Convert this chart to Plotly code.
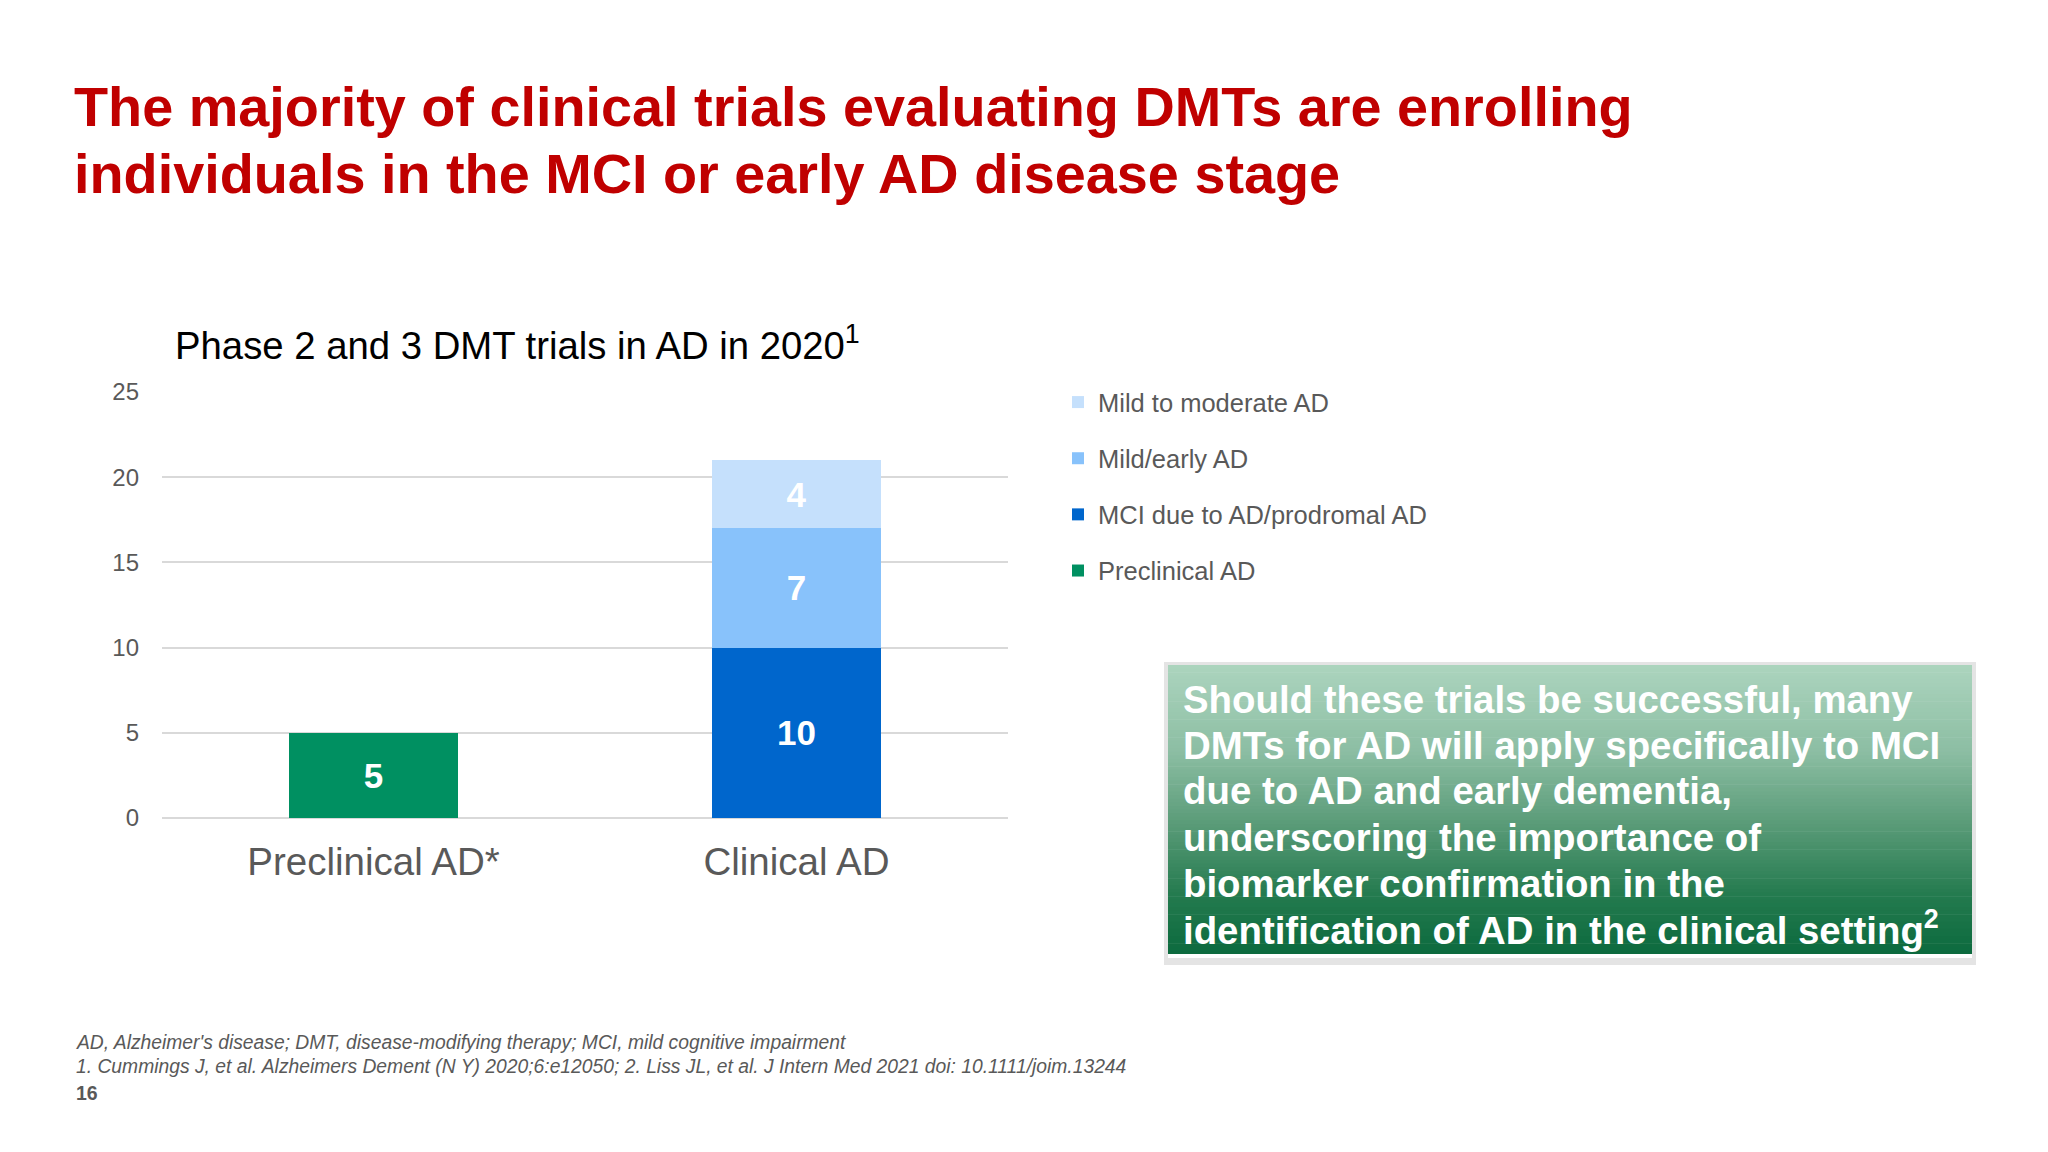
import plotly.graph_objects as go

# ---- data ----
categories = ["Preclinical AD*", "Clinical AD"]
series_names = ["Preclinical AD", "MCI due to AD/prodromal AD", "Mild/early AD", "Mild to moderate AD"]
preclinical_vals = [5, None]
mci_vals = [None, 10]
mild_early_vals = [None, 7]
mild_moderate_vals = [None, 4]
series_colors = ["#009061", "#0066CC", "#88C2FB", "#C5E0FC"]
y_ticks = [0, 5, 10, 15, 20, 25]

title_lines = ["The majority of clinical trials evaluating DMTs are enrolling",
               "individuals in the MCI or early AD disease stage"]
box_lines = ["Should these trials be successful, many",
             "DMTs for AD will apply specifically to MCI",
             "due to AD and early dementia,",
             "underscoring the importance of",
             "biomarker confirmation in the",
             "identification of AD in the clinical setting<sup>2</sup>"]

W, H = 2048, 1152
L, R, T, B = 162, 1008, 392, 818  # plot area in px


def px(x):
    return (x - L) / (R - L)


def py(y):
    return (B - y) / (B - T)


fig = go.Figure()
n_series = len(series_names)
for k, (name, vals, col) in enumerate(zip(series_names,
                                          [preclinical_vals, mci_vals, mild_early_vals, mild_moderate_vals],
                                          series_colors)):
    xs = [c for c, v in zip(categories, vals) if v is not None]
    ys = [v for v in vals if v is not None]
    fig.add_trace(go.Bar(
        x=xs, y=ys, name=name, legendgroup=name, legendrank=n_series - k,
        marker=dict(color=col, line=dict(width=0)),
        text=[str(v) for v in ys],
        textposition="inside", insidetextanchor="middle", textangle=0,
        constraintext="none",
        textfont=dict(family="Liberation Sans", size=35, color="white", weight="bold"),
        hoverinfo="skip",
    ))

shapes = []
# shadow of callout box
shapes.append(dict(type="rect", xref="paper", yref="paper",
                   x0=px(1164), x1=px(1976), y0=py(965), y1=py(662),
                   fillcolor="#e4e4e4", line=dict(width=0), layer="below"))
shapes.append(dict(type="rect", xref="paper", yref="paper",
                   x0=px(1168), x1=px(1972), y0=py(958), y1=py(665),
                   fillcolor="#ffffff", line=dict(width=0), layer="below"))
# gradient callout box (decorative strips)
stops = [(0.0, (172, 212, 190)), (0.3, (140, 190, 163)), (0.55, (90, 155, 120)),
         (0.8, (35, 122, 78)), (1.0, (12, 106, 62))]


def grad(t):
    for (t0, c0), (t1, c1) in zip(stops[:-1], stops[1:]):
        if t <= t1:
            f = (t - t0) / (t1 - t0)
            return "rgb(%d,%d,%d)" % tuple(round(a + (b - a) * f) for a, b in zip(c0, c1))
    return "rgb(%d,%d,%d)" % stops[-1][1]


top_y, bot_y = 665, 954
N = 80
for i in range(N):
    y0 = top_y + (bot_y - top_y) * i / N
    y1 = top_y + (bot_y - top_y) * (i + 1) / N + 0.6
    shapes.append(dict(type="rect", xref="paper", yref="paper",
                       x0=px(1168), x1=px(1972), y0=py(min(y1, bot_y)), y1=py(y0),
                       fillcolor=grad((i + 0.5) / N), line=dict(width=0), layer="below"))

annotations = []
for line, yc in zip(title_lines, [106, 173]):
    annotations.append(dict(
        xref="paper", yref="paper", x=px(72), y=py(yc), xanchor="left", yanchor="middle",
        text=line, showarrow=False,
        font=dict(family="Liberation Sans", size=55.8, color="#C00000", weight="bold")))
annotations.append(dict(
    xref="paper", yref="paper", x=px(173), y=py(343), xanchor="left", yanchor="middle",
    text="Phase 2 and 3 DMT trials in AD in 2020<sup>1</sup>", showarrow=False,
    font=dict(family="Liberation Sans", size=38.3, color="#000000")))
for line, yc in zip(box_lines, [699, 745, 790, 837, 883, 928]):
    annotations.append(dict(
        xref="paper", yref="paper", x=px(1181), y=py(yc), xanchor="left", yanchor="middle",
        text=line, showarrow=False,
        font=dict(family="Liberation Sans", size=38.4, color="#FFFFFF", weight="bold")))
annotations.append(dict(
    xref="paper", yref="paper", x=px(74), y=py(1042), xanchor="left", yanchor="middle",
    text="<i>AD, Alzheimer's disease; DMT, disease-modifying therapy; MCI, mild cognitive impairment</i>",
    showarrow=False, font=dict(family="Liberation Sans", size=19.3, color="#595959")))
annotations.append(dict(
    xref="paper", yref="paper", x=px(74), y=py(1066), xanchor="left", yanchor="middle",
    text="<i>1. Cummings J, et al. Alzheimers Dement (N Y) 2020;6:e12050; 2. Liss JL, et al. J Intern Med 2021 doi: 10.1111/joim.13244</i>",
    showarrow=False, font=dict(family="Liberation Sans", size=19.3, color="#595959")))
annotations.append(dict(
    xref="paper", yref="paper", x=px(74), y=py(1093), xanchor="left", yanchor="middle",
    text="<b>16</b>", showarrow=False,
    font=dict(family="Liberation Sans", size=19.5, color="#595959")))

fig.update_layout(
    width=W, height=H,
    margin=dict(l=L, r=W - R, t=T, b=H - B, pad=0),
    paper_bgcolor="white", plot_bgcolor="white",
    barmode="stack", bargap=0.6,
    font=dict(family="Liberation Sans", color="#595959"),
    showlegend=True,
    legend=dict(
        xref="container", yref="container",
        x=1058 / W, y=1 - 379 / H, xanchor="left", yanchor="top",
        traceorder="grouped", tracegroupgap=20,
        font=dict(family="Liberation Sans", size=25.5, color="#595959"),
        bgcolor="rgba(0,0,0,0)", itemclick=False, itemdoubleclick=False,
    ),
    xaxis=dict(
        categoryorder="array", categoryarray=categories,
        showgrid=False, showline=False, zeroline=False,
        ticks="", ticklabelstandoff=17,
        tickfont=dict(family="Liberation Sans", size=38.5, color="#595959"),
        fixedrange=True,
    ),
    yaxis=dict(
        range=[0, 25], tickvals=y_ticks, showgrid=True, gridcolor="#D9D9D9", gridwidth=1.5,
        zeroline=True, zerolinecolor="#D9D9D9", zerolinewidth=1.5,
        showline=False, ticks="", ticklabelstandoff=22,
        tickfont=dict(family="Liberation Sans", size=24, color="#595959"),
        fixedrange=True,
    ),
    shapes=shapes,
    annotations=annotations,
)

fig.write_html("out.html", config={"displayModeBar": False})
